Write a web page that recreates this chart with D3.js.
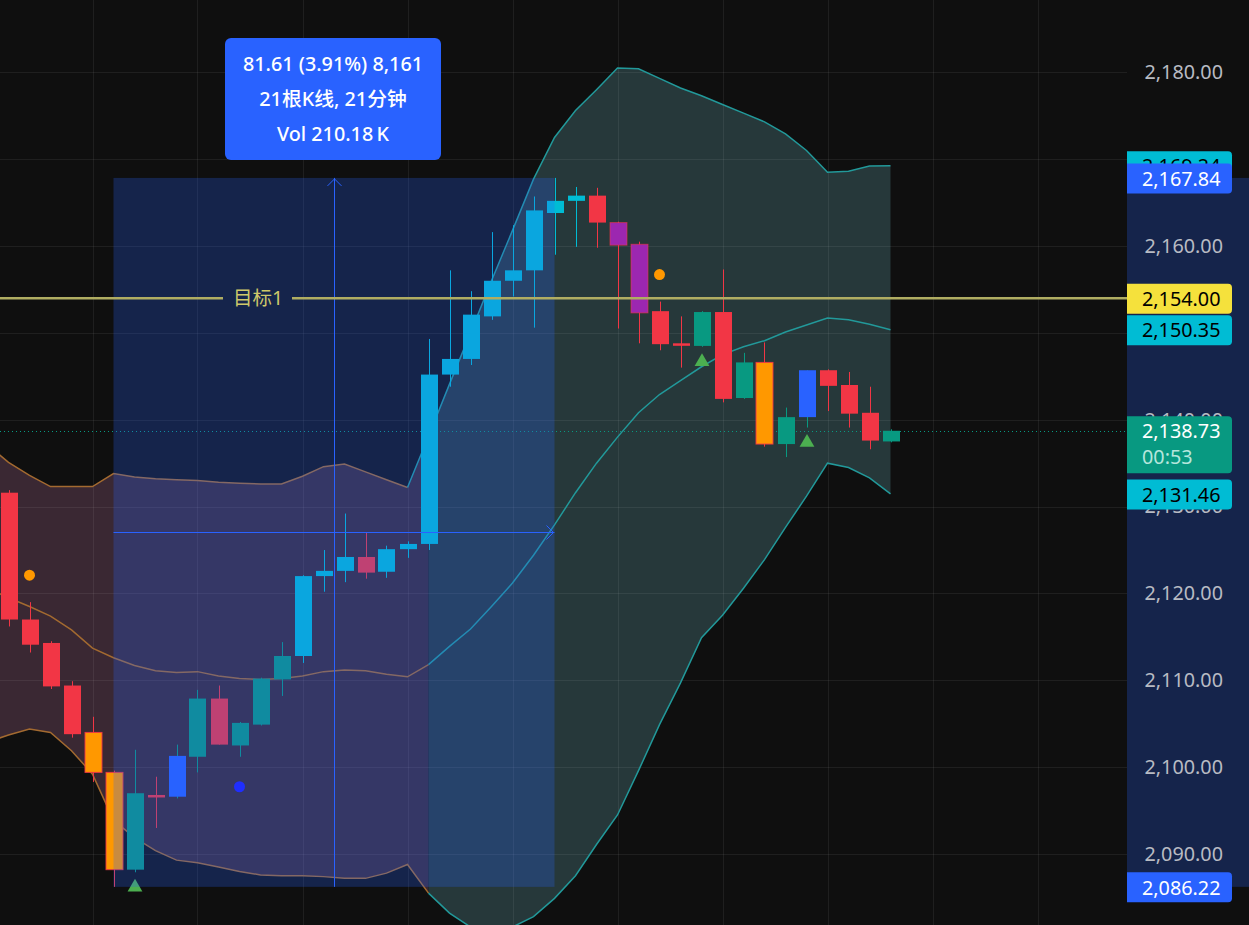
<!DOCTYPE html>
<html><head><meta charset="utf-8">
<script src="https://cdn.jsdelivr.net/npm/d3@7"></script>
<style>html,body{margin:0;padding:0;background:#0f0f0f;overflow:hidden}
text{font-family:"Noto Sans","Noto Sans CJK SC",sans-serif}</style>
</head><body>
<svg id="c" width="1249" height="925"></svg>
<script>
// ---------------- DATA ----------------
const barIndex = d3.range(0, 43);
const openP  = [2131.6,2117.0,2114.3,2109.4,2104.0,2099.4,2088.2,2096.8,2096.6,2101.2,2107.9,2102.5,2104.9,2110.1,2112.8,2122.0,2122.6,2124.2,2122.5,2125.1,2125.7,2145.2,2147.0,2151.9,2156.0,2157.2,2163.8,2165.2,2165.8,2162.7,2160.2,2152.5,2148.8,2148.5,2152.4,2142.5,2146.6,2137.2,2140.3,2145.7,2144.0,2140.8,2137.5];
const highP  = [2131.9,2119.0,2114.5,2109.9,2105.8,2099.6,2102.0,2098.9,2102.6,2108.9,2109.4,2105.2,2110.3,2114.4,2122.1,2125.0,2129.2,2127.0,2125.5,2126.0,2149.3,2157.2,2154.8,2161.6,2162.4,2165.7,2167.84,2166.8,2166.7,2162.8,2160.5,2153.6,2151.9,2152.5,2157.3,2147.7,2148.9,2141.4,2145.7,2145.8,2145.5,2143.8,2138.9];
const lowP   = [2116.2,2113.2,2109.0,2103.4,2098.3,2086.22,2087.9,2093.0,2096.4,2099.4,2102.6,2101.2,2104.8,2108.2,2112.0,2120.2,2121.3,2121.7,2121.8,2124.1,2125.0,2143.8,2146.3,2151.5,2154.2,2150.6,2159.0,2159.9,2159.8,2150.5,2148.8,2148.0,2146.0,2148.4,2142.0,2142.4,2136.9,2135.7,2139.1,2141.0,2139.1,2136.6,2137.4];
const closeP = [2117.0,2114.1,2109.3,2103.8,2099.4,2088.2,2097.0,2096.6,2101.3,2107.9,2102.6,2105.1,2110.2,2112.8,2122.0,2122.6,2124.2,2122.4,2125.1,2125.7,2145.2,2147.0,2152.1,2156.0,2157.2,2164.1,2165.2,2165.8,2162.7,2160.1,2152.3,2148.7,2148.6,2152.4,2142.4,2146.6,2137.2,2140.3,2145.7,2143.9,2140.7,2137.6,2138.73];
const barColorKey = ["R","R","R","R","O","O","T","R","B","T","R","T","T","T","C","C","C","R","C","C","C","C","C","C","C","C","C","C","R","P","P","R","R","T","R","T","O","T","B","R","R","R","T"];

// channel indicator (bars -1 .. 42)
const bandIndex = d3.range(-1, 43);
const upperBand = [2137.1,2135.1,2133.6,2132.3,2132.3,2132.3,2133.8,2133.4,2133.2,2133.1,2133.0,2132.8,2132.7,2132.6,2132.6,2133.5,2134.6,2134.9,2134.0,2133.1,2132.2,
  2138.1,2144.1,2150.0,2156.0,2161.8,2167.7,2172.5,2175.6,2178.0,2180.5,2180.4,2179.3,2178.2,2177.3,2176.3,2175.3,2174.3,2172.9,2171.0,2168.5,2168.6,2169.2,2169.24];
const middleBand = [2120.6,2119.5,2118.5,2117.4,2115.8,2113.7,2112.6,2111.7,2111.1,2110.9,2111.0,2110.5,2110.2,2110.1,2110.2,2110.5,2111.0,2111.2,2111.1,2110.7,2110.4,2111.8,
  2113.9,2115.9,2118.5,2121.2,2124.4,2127.9,2131.6,2135.0,2138.0,2140.8,2142.9,2144.5,2146.1,2147.5,2148.4,2149.1,2150.1,2150.9,2151.7,2151.5,2151.0,2150.35];
const lowerBand = [2102.9,2103.7,2104.4,2104.0,2101.9,2099.2,2093.9,2091.9,2090.4,2089.3,2089.0,2088.5,2088.0,2087.6,2087.5,2087.5,2087.4,2087.2,2087.2,2087.8,2088.8,2085.5,
  2083.2,2081.6,2081.0,2081.6,2082.8,2084.9,2087.5,2091.1,2094.5,2099.6,2104.9,2109.7,2114.9,2117.5,2120.6,2123.9,2127.6,2131.2,2135.0,2134.5,2133.3,2131.46];
const regimeSwitchBar = 20;

const triangleBars = [6, 33, 38];
const orangeDotBars = [1, 31];
const blueDotBars = [11];

const gridTicks = [2090,2100,2110,2120,2130,2140,2150,2160,2170,2180];
const tickLabels = [2090,2100,2110,2120,2130,2140,2160,2180];
const measureFrom = 5, measureTo = 26, measureLow = 2086.22, measureHigh = 2167.84;
const tooltipLines = ["81.61 (3.91%) 8,161", "21根K线, 21分钟", "Vol 210.18\u2009K"];
const targetPrice = 2154.00, targetLabel = "目标1";
const lastPrice = 2138.73, countdown = "00:53";
const axisLabelValues = [2169.24, 2167.84, 2154.00, 2150.35, 2138.73, 2131.46, 2086.22];
const axisLabelKinds  = ["cyan", "blue", "yellow", "cyan", "last", "cyan", "blue"];

// ---------------- STYLE ----------------
const COL = {R:"#f23645", O:"#ff9800", T:"#089981", B:"#2962ff", C:"#00bcd4", P:"#9c27b0"};
const labelStyle = {
  cyan:{bg:"#00bcd4", fg:"#000000"}, blue:{bg:"#2962ff", fg:"#ffffff"},
  yellow:{bg:"#f5e13c", fg:"#000000"}, last:{bg:"#089981", fg:"#ffffff"}
};
const W = 1249, H = 925, plotRight = 1127;
const AXF = 19.8;

const svg = d3.select("#c");
const x = d3.scaleLinear().domain([0, 42]).range([8.5, 890.5]);
const y = d3.scaleLinear().domain([2080, 2190]).range([940.9, -14.56]);
const fmt = d3.format(",.2f");

svg.append("rect").attr("width", W).attr("height", H).attr("fill", "#0f0f0f");
svg.append("defs").append("clipPath").attr("id","plot").append("rect")
  .attr("x",0).attr("y",0).attr("width",plotRight).attr("height",H);
const plot = svg.append("g").attr("clip-path","url(#plot)");

// band data
const band = bandIndex.map((b, k) => ({i:b, up:upperBand[k], mid:middleBand[k], lo:lowerBand[k]}));
const leftBand = band.filter(d => d.i <= regimeSwitchBar);
const rightBand = band.filter(d => d.i >= regimeSwitchBar);
const area = d3.area().x(d => x(d.i)).y0(d => y(d.lo)).y1(d => y(d.up));
plot.append("path").datum(leftBand).attr("d", area).attr("fill", "#3a2833");
plot.append("path").datum(rightBand).attr("d", area).attr("fill", "#26383a");

// gridlines
const gridG = plot.append("g");
gridG.selectAll("line.h").data(gridTicks).join("line")
  .attr("x1",0).attr("x2",plotRight).attr("y1",d=>Math.round(y(d))+0.5).attr("y2",d=>Math.round(y(d))+0.5)
  .attr("stroke","rgba(255,255,255,0.065)").attr("stroke-width",1);
const vGrid = d3.range(-1, 55, 5);
gridG.selectAll("line.v").data(vGrid).join("line")
  .attr("x1",d=>Math.round(x(d))+0.5).attr("x2",d=>Math.round(x(d))+0.5).attr("y1",0).attr("y2",H)
  .attr("stroke","rgba(255,255,255,0.065)").attr("stroke-width",1);

// band lines
const brown = "#a36a30", teal = "#22999a";
function bandLine(key, data, color){
  plot.append("path").datum(data)
    .attr("d", d3.line().x(d=>x(d.i)).y(d=>y(d[key])))
    .attr("fill","none").attr("stroke",color).attr("stroke-width",1.5);
}
bandLine("up", band.filter(d=>d.i<=regimeSwitchBar-1), brown);
bandLine("up", band.filter(d=>d.i>=regimeSwitchBar-1), teal);
bandLine("mid", leftBand, brown);
bandLine("mid", rightBand, teal);
bandLine("lo", leftBand, brown);
bandLine("lo", rightBand, teal);

// last price dotted line
plot.append("line").attr("x1",0).attr("x2",plotRight)
  .attr("y1",Math.round(y(lastPrice))+0.5).attr("y2",Math.round(y(lastPrice))+0.5)
  .attr("stroke","#089981").attr("stroke-width",1).attr("stroke-dasharray","1,3");

// candles
const candles = barIndex.map(i => ({i, o:openP[i], h:highP[i], l:lowP[i], c:closeP[i], k:barColorKey[i]}));
const cw = 17;
const cg = plot.append("g");
cg.selectAll("line").data(candles).join("line")
  .attr("x1",d=>Math.round(x(d.i))+0.5).attr("x2",d=>Math.round(x(d.i))+0.5)
  .attr("y1",d=>y(d.h)).attr("y2",d=>y(d.l))
  .attr("stroke",d=> d.k==="C" ? COL.C : (d.c>=d.o ? COL.T : COL.R)).attr("stroke-width",1);
cg.selectAll("rect").data(candles).join("rect")
  .attr("x",d=>Math.round(x(d.i))+0.5-cw/2).attr("width",cw)
  .attr("y",d=>y(Math.max(d.o,d.c)))
  .attr("height",d=>Math.max(2.5, Math.abs(y(d.o)-y(d.c))))
  .attr("fill",d=>COL[d.k])
  .attr("stroke",d=> (d.k==="O"||d.k==="P") ? COL.R : "none")
  .attr("stroke-opacity",d=> d.k==="P"?0.6:0.9)
  .attr("stroke-width",1);

// markers
const tri = d3.symbol().type(d3.symbolTriangle).size(95);
plot.selectAll("path.tri").data(triangleBars).join("path")
  .attr("d", tri)
  .attr("transform", i => `translate(${x(i)+0.5},${y(lowP[i])+15})`)
  .attr("fill","#4caf50");
plot.selectAll("circle.od").data(orangeDotBars).join("circle")
  .attr("cx",i=>x(i)).attr("cy",i=>y(highP[i])-27).attr("r",5.5).attr("fill","#ff9800");
plot.selectAll("circle.bd").data(blueDotBars).join("circle")
  .attr("cx",i=>x(i)).attr("cy",i=>y(lowP[i])+30).attr("r",5.5).attr("fill","#1d1dff");

// measurement overlay
const mx0 = x(measureFrom), mx1 = x(measureTo), my0 = y(measureHigh), my1 = y(measureLow);
plot.append("rect").attr("x",mx0).attr("y",my0).attr("width",mx1-mx0).attr("height",my1-my0)
  .attr("fill","rgba(41,98,255,0.25)");
const mxm = Math.round((mx0+mx1)/2)+0.5, mym = Math.round((my0+my1)/2)+0.5;
const mg = plot.append("g").attr("stroke","#2962ff").attr("stroke-width",1).attr("fill","none");
mg.append("line").attr("x1",mxm).attr("x2",mxm).attr("y1",my0).attr("y2",my1);
mg.append("line").attr("x1",mx0).attr("x2",mx1).attr("y1",mym).attr("y2",mym);
mg.append("path").attr("d",`M${mxm-7},${my0+8}L${mxm},${my0+1}L${mxm+7},${my0+8}`);
mg.append("path").attr("d",`M${mx1-8},${mym-7}L${mx1-1},${mym}L${mx1-8},${mym+7}`);

// target line
const ty = y(targetPrice);
const tg = plot.append("g");
tg.append("line").attr("x1",0).attr("x2",223).attr("y1",ty).attr("y2",ty)
  .attr("stroke","#b0ad62").attr("stroke-width",2.5);
tg.append("line").attr("x1",292).attr("x2",plotRight).attr("y1",ty).attr("y2",ty)
  .attr("stroke","#b0ad62").attr("stroke-width",2.5);
tg.append("text").attr("x",258).attr("y",ty).attr("dy","0.36em").attr("text-anchor","middle")
  .attr("font-size",19.5).attr("fill","#cfc86a").text(targetLabel);

// tooltip
const tt = svg.append("g");
tt.append("rect").attr("x",225).attr("y",38).attr("width",216).attr("height",122).attr("rx",6)
  .attr("fill","#2962ff");
tt.selectAll("text").data(tooltipLines).join("text")
  .attr("x",333).attr("y",(d,k)=>64+k*35).attr("dy","0.36em").attr("text-anchor","middle")
  .attr("font-size",19.8).attr("fill","#ffffff").attr("font-weight",500).text(d=>d);

// price axis
const ax = svg.append("g");
ax.append("rect").attr("x",plotRight).attr("y",0).attr("width",W-plotRight).attr("height",H).attr("fill","#0f0f0f");
ax.append("rect").attr("x",plotRight).attr("y",my0).attr("width",W-plotRight).attr("height",my1-my0)
  .attr("fill","rgba(41,98,255,0.25)");
const axisScale = d3.axisRight(y).tickValues(tickLabels).tickFormat(fmt).tickSize(0);
const axG = ax.append("g").attr("transform",`translate(${plotRight},0)`).call(axisScale);
axG.select(".domain").remove();
axG.selectAll("text").attr("x",96).attr("text-anchor","end").attr("font-size",AXF)
  .attr("fill","#b8bbc3").attr("font-family",'"Noto Sans",sans-serif');

axisLabelValues.forEach((v,k) => {
  const kind = axisLabelKinds[k], st = labelStyle[kind];
  const cy = y(v) + 0.5;
  const g = ax.append("g");
  const h = kind==="last" ? 57 : 30;
  const top = kind==="last" ? cy-15 : cy-h/2;
  g.append("path").attr("d",`M${plotRight},${top}H${1228}a4,4 0 0 1 4,4V${top+h-4}a4,4 0 0 1 -4,4H${plotRight}Z`)
    .attr("fill",st.bg);
  g.append("text").attr("x",1142).attr("y",kind==="last"?top+15:cy).attr("dy","0.36em")
    .attr("font-size",AXF).attr("fill",st.fg).text(fmt(v));
  if (kind==="last") {
    g.append("text").attr("x",1142).attr("y",top+41).attr("dy","0.36em")
      .attr("font-size",AXF).attr("fill","#b5e6dc").text(countdown);
  }
});
</script>
</body></html>
